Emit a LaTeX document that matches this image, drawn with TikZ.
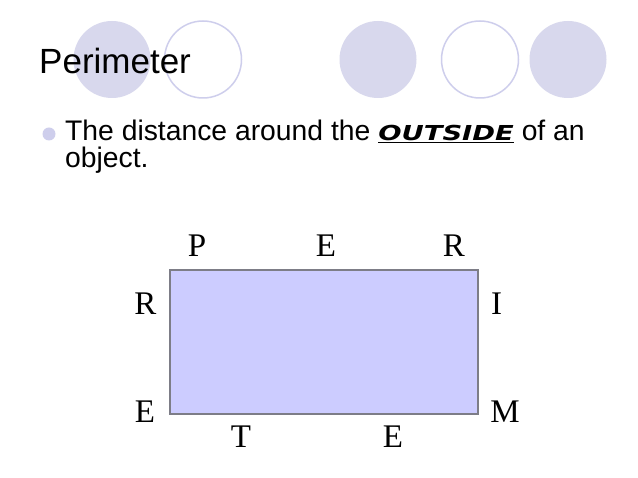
\documentclass[tikz,border=0pt]{standalone}
\usepackage{fontspec}
\usepackage{graphicx}
\usepackage{tikz}
\setmainfont{Liberation Sans}
\newfontfamily\letterfont{Liberation Serif}
\newfontfamily\widefont{DejaVu Sans}
\definecolor{lavfill}{RGB}{216,216,237}
\definecolor{lavline}{RGB}{206,206,236}
\definecolor{fieldfill}{RGB}{204,204,255}
\definecolor{fieldline}{RGB}{125,125,135}
\newcommand{\outsideword}{\underline{\scalebox{1.33}[1]{\fontsize{20.6}{24}\widefont\bfseries\itshape OUTSIDE}}}

\begin{document}
\begin{tikzpicture}[x=1pt, y=-1pt,
		letter/.style={anchor=base, inner sep=0pt, font=\fontsize{33}{38}\letterfont},
		bodytext/.style={anchor=base west, inner sep=0pt, font=\fontsize{28.3}{34}\selectfont}]

			\useasboundingbox[fill=white] (0, 0) rectangle (638, 478);

			\fill[lavfill] (112, 59.5) circle (38.5pt);
			\draw[lavline, line width=1.5pt] (203, 59.5) circle (38.5pt);
			\fill[lavfill] (378, 59.5) circle (38.5pt);
			\draw[lavline, line width=1.5pt] (480, 59.5) circle (38.5pt);
			\fill[lavfill] (568, 59.5) circle (38.5pt);

			\node[anchor=base west, inner sep=0pt, font=\fontsize{35}{42}\selectfont] (title) at (39, 74) {Perimeter};

			\fill[lavline] (49, 134) circle (6.5pt);
			\node[bodytext] (line1) at (65, 141) {The distance around the \outsideword{} of an};
			\node[bodytext] (line2) at (65, 168) {object.};

			\draw[fill=fieldfill, draw=fieldline, line width=1.3pt] (170, 270) rectangle (478, 414);

			\node[letter] (p) at (197, 257) {P};
			\node[letter] (e1) at (326, 257) {E};
			\node[letter] (r1) at (454, 257) {R};
			\node[letter] (r2) at (145.5, 315) {R};
			\node[letter] (i) at (496.5, 315) {I};
			\node[letter] (e2) at (145, 423) {E};
			\node[letter] (m) at (505, 423) {M};
			\node[letter] (t) at (241, 448) {T};
			\node[letter] (e3) at (393, 448) {E};
		\end{tikzpicture}
\end{document}
